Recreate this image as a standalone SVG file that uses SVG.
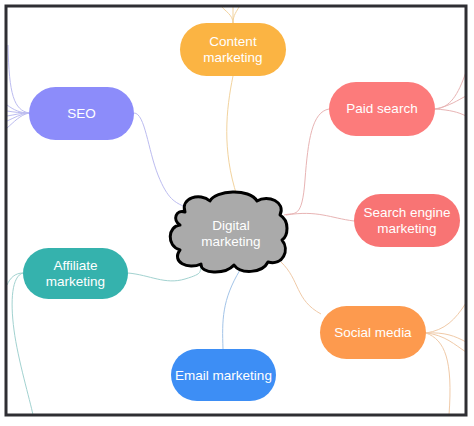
<svg xmlns="http://www.w3.org/2000/svg" width="474" height="426" viewBox="0 0 474 426">
<style>
.t{font-family:"Liberation Sans",Arial,sans-serif;font-size:13.5px;fill:#ffffff;text-anchor:middle}
.c{fill:none;stroke-width:1}
</style>
<rect x="0" y="0" width="474" height="426" fill="#ffffff"/>
<g id="connectors">
<g stroke="#f2d39e" class="c">
<path d="M233 76 C226 110 222 150 237 196"/>
<path d="M233 23 C233 15 225 11 222 7"/>
<path d="M233 23 L233 7"/>
<path d="M233 23 C233 15 237 11 239 7"/>
</g>
<g stroke="#bcbcf0" class="c">
<path d="M134 113 C145 113 148 150 158 175 S175 202 185 207"/>
<path d="M29 113 C20 113 14 110 7 105"/>
<path d="M29 113 C20 113 14 112 7 111"/>
<path d="M29 113 C20 113 14 115 7 116"/>
<path d="M29 113 C20 114 14 118 7 121"/>
<path d="M29 113 C20 115 14 122 7 128"/>
<path d="M29 113 C14 110 9 95 8 45"/>
</g>
<g stroke="#e8b4b4" class="c">
<path d="M329 109 C312 112 308 140 305 180 S295 212 284 215"/>
<path d="M354 221 C330 218 318 210 286 215"/>
<path d="M435 109 C450 108 458 95 466 72"/>
<path d="M435 109 C450 106 458 100 466 96"/>
<path d="M435 109 C450 110 458 112 466 116"/>
</g>
<g stroke="#f0caa8" class="c">
<path d="M281 262 C300 280 295 300 321 314"/>
<path d="M426 333 C445 330 455 320 466 303"/>
<path d="M426 333 C445 332 455 336 466 342"/>
<path d="M426 333 C445 335 455 345 466 352"/>
<path d="M426 333 C445 340 453 360 449 415"/>
</g>
<g stroke="#a3c4e8" class="c">
<path d="M223 349 C222 320 222 300 240 270"/>
</g>
<g stroke="#a2d2d0" class="c">
<path d="M128 273 C150 275 165 285 185 279 S198 272 202 266"/>
<path d="M23 273 C15 273 10 278 7 285"/>
<path d="M23 273 C12 276 10 300 14 330 S30 400 33 415"/>
</g>
</g>
<rect x="6" y="6" width="460" height="409" fill="none" stroke="#2e2e33" stroke-width="3"/>
<g id="content-marketing">
<rect x="180" y="23" width="106" height="53" rx="26.5" fill="#fbb443"/>
<text class="t" x="233" y="46">Content</text>
<text class="t" x="233" y="62">marketing</text>
</g>
<g id="seo">
<rect x="29" y="87" width="105" height="53" rx="26.5" fill="#8c8cfa"/>
<text class="t" x="81.5" y="118">SEO</text>
</g>
<g id="paid-search">
<rect x="329" y="82" width="106" height="54" rx="27" fill="#fc7b7b"/>
<text class="t" x="382" y="113">Paid search</text>
</g>
<g id="search-engine-marketing">
<rect x="354" y="194" width="106" height="53" rx="26.5" fill="#f87474"/>
<text class="t" x="407" y="217">Search engine</text>
<text class="t" x="407" y="233">marketing</text>
</g>
<g id="social-media">
<rect x="320" y="306" width="106" height="53" rx="26.5" fill="#fd9a4e"/>
<text class="t" x="373" y="337">Social media</text>
</g>
<g id="email-marketing">
<rect x="171" y="349" width="105" height="52" rx="26" fill="#3d8ef5"/>
<text class="t" x="223.5" y="380">Email marketing</text>
</g>
<g id="affiliate-marketing">
<rect x="23" y="248" width="105" height="51" rx="25.5" fill="#35b2ad"/>
<text class="t" x="75.5" y="270">Affiliate</text>
<text class="t" x="75.5" y="286">marketing</text>
</g>
<g id="digital-marketing">
<path d="M185 212 C180 198 200 192 210 201 C215 190 250 188 257 201 C268 194 286 202 280 215 C290 221 288 236 282 240 C290 250 283 266 268 262 C262 274 240 274 234 265 C225 275 200 274 201 264 C188 270 171 262 180 250 C166 246 168 226 180 225 C172 220 176 209 185 212 Z" fill="#aaaaaa" stroke="#000000" stroke-width="3" stroke-linejoin="round"/>
<text class="t" x="231" y="230" fill="#f2f2f2">Digital</text>
<text class="t" x="231" y="246" fill="#f2f2f2">marketing</text>
</g>
</svg>
